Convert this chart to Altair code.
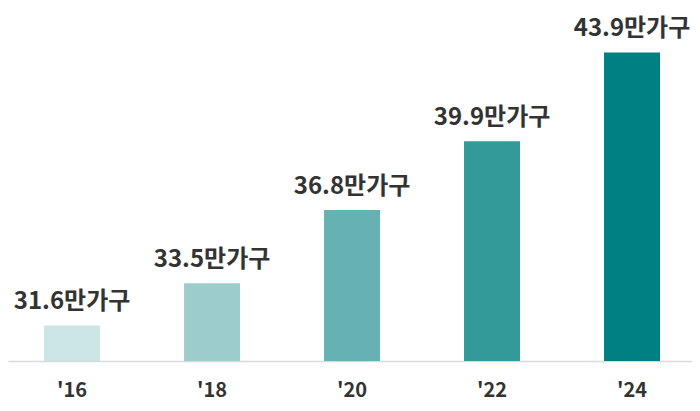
import altair as alt
import pandas as pd

years = ["'16", "'18", "'20", "'22", "'24"]
values = [31.6, 33.5, 36.8, 39.9, 43.9]
labels = ["31.6만가구", "33.5만가구", "36.8만가구", "39.9만가구", "43.9만가구"]
colors = ["#cce5e5", "#9dcccc", "#66b2b2", "#339999", "#008080"]

df = pd.DataFrame({"year": years, "value": values, "label": labels})

x = alt.X("year:N", sort=years, title=None,
          scale=alt.Scale(paddingInner=0.6, paddingOuter=0.243, align=0.53),
          axis=alt.Axis(labelAngle=0, ticks=False, domainColor="#d9d9d9", domainWidth=1.5,
                        labelFont="Noto Sans CJK KR", labelFontWeight="bold", labelFontSize=20,
                        labelColor="#333333", labelPadding=29, labelBaseline="middle"))
y = alt.Y("value:Q", title=None, scale=alt.Scale(domain=[30, 45.9], zero=False, nice=False),
          axis=None)

bars = alt.Chart(df).mark_bar(clip=True).encode(
    x=x, y=y,
    color=alt.Color("year:N", scale=alt.Scale(domain=years, range=colors), legend=None),
)
text = alt.Chart(df).mark_text(
    font="Noto Sans CJK KR", fontWeight="bold", fontSize=24, color="#333333",
    baseline="alphabetic", dy=-16,
).encode(x=x, y=y, text="label:N")

chart = (bars + text).properties(
    width=684, height=353,
    padding={"left": 0, "right": 0, "top": 0, "bottom": 6},
).configure_view(stroke=None)
chart.save("out.html", embed_options={"renderer": "svg", "actions": False})
